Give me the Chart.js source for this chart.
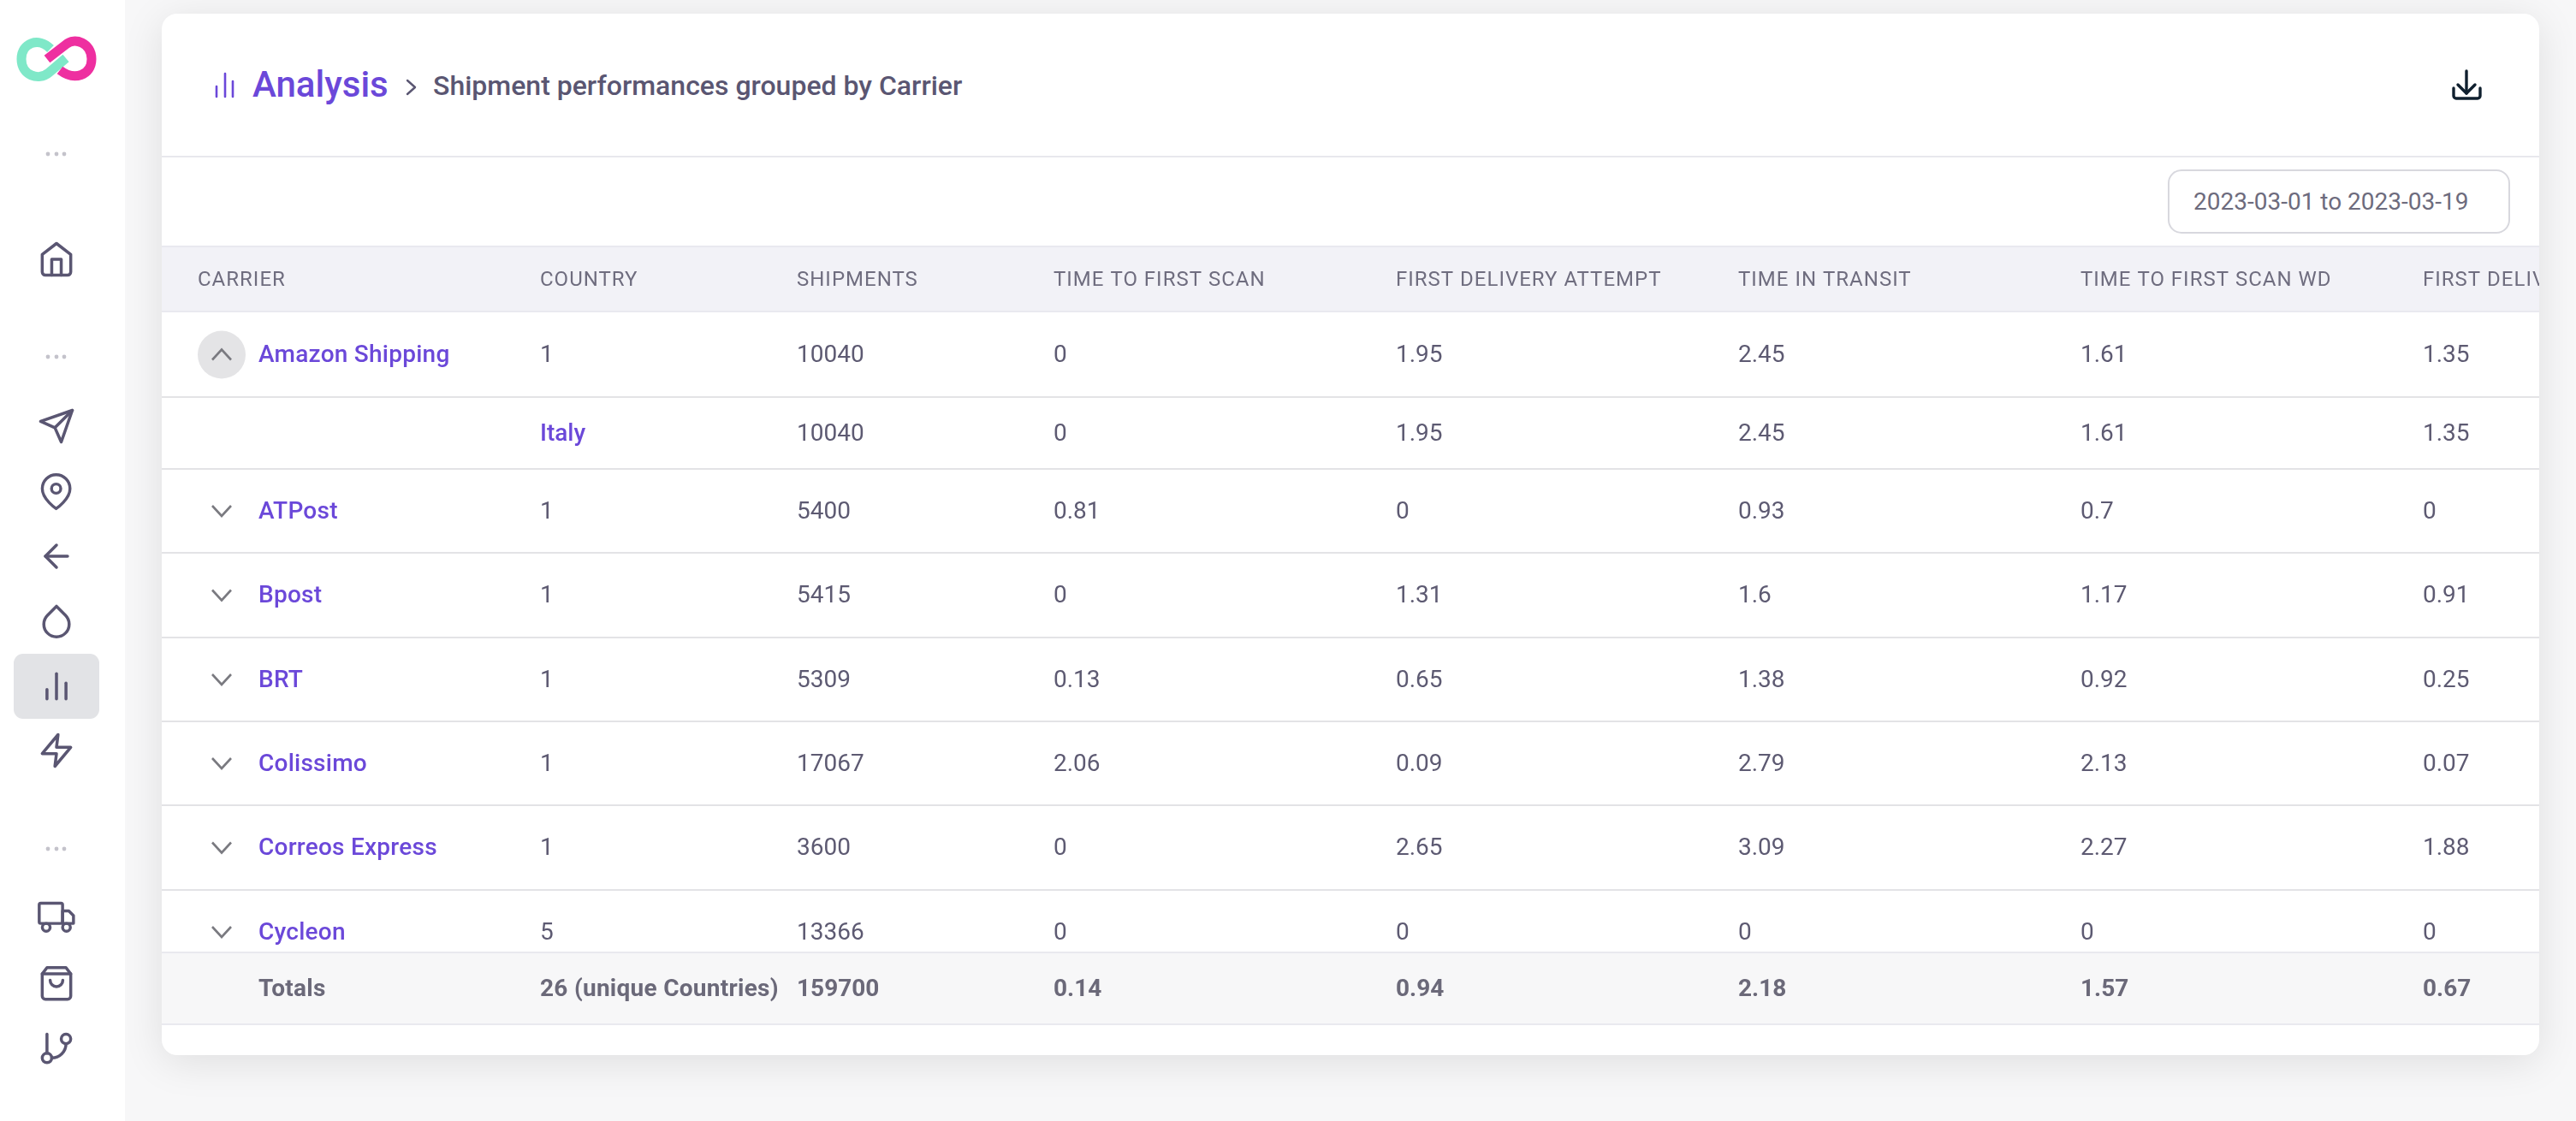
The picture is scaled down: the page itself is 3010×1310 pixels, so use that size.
<!DOCTYPE html>
<html>
<head>
<meta charset="utf-8">
<script src="https://cdn.jsdelivr.net/npm/chart.js@4"></script>
<style>
  html, body { margin: 0; padding: 0; width: 3010px; height: 1310px; overflow: hidden; background: #f7f7f8; font-family: Roboto, sans-serif; }
  #side { position: absolute; left: 0; top: 0; width: 146px; height: 1310px; background: #fff; z-index: 2; }
  #card { position: absolute; left: 189px; top: 16px; width: 2778px; height: 1217px; background: #fff; border-radius: 18px; box-shadow: 0 8px 48px rgba(0,0,0,.1); }
  #card .rule { position: absolute; left: 0; right: 0; top: 166px; height: 2px; background: #e8e8ed; }
  #wrap { position: absolute; left: 0; top: 271px; width: 2778px; height: 946px; overflow: hidden; border-radius: 0 0 18px 18px; }
  #wrap canvas { display: block; }
  .txt { position: absolute; white-space: nowrap; line-height: 1; }
  #analysis { left: 106px; top: 62px; font-size: 42px; font-weight: 500; color: #6b48d9; }
  #crumb { left: 317px; top: 68px; font-size: 32px; font-weight: 500; color: #5a5672; }
  #range { position: absolute; left: 2344px; top: 182px; width: 396px; height: 71px; border: 2px solid #d8d8de; border-radius: 16px; background: #fff; }
  #rangeText { left: 28px; top: 22px; font-size: 28px; color: #6d6b7d; }
  svg.over { position: absolute; left: 0; top: 0; fill: none; stroke-linecap: round; stroke-linejoin: round; }
</style>
</head>
<body>
<div id="side">
  <svg class="over" width="146" height="1310">
    <path d="M77 68 L57 85 C45 95 25 88 25 69 C25 50 45 43 59 57" stroke="#7fe8c8" stroke-width="11" stroke-linecap="butt"/>
    <path d="M55 69 L77 52 C87 43 107 50 107 69 C107 88 87 95 70 82" stroke="#ee2fa0" stroke-width="11" stroke-linecap="butt"/>
    <g fill="#c4c3cb" stroke="none">
      <circle cx="56" cy="180" r="2.4"/><circle cx="66" cy="180" r="2.4"/><circle cx="75" cy="180" r="2.4"/>
      <circle cx="56" cy="417" r="2.4"/><circle cx="66" cy="417" r="2.4"/><circle cx="75" cy="417" r="2.4"/>
      <circle cx="56" cy="992" r="2.4"/><circle cx="66" cy="992" r="2.4"/><circle cx="75" cy="992" r="2.4"/>
    </g>
    <rect x="16" y="764" width="100" height="76" rx="11" fill="#e2e3e6"/>
    <g stroke="#5a5672" stroke-width="1.9">
      <g transform="translate(43.8,280.8) scale(1.85)"><path d="M3 9l9-7 9 7v11a2 2 0 0 1-2 2H5a2 2 0 0 1-2-2z"/><path d="M9 22V12h6v10"/></g>
      <g transform="translate(43.8,475.8) scale(1.85)"><path d="M22 2 11 13"/><path d="M22 2 15 22 11 13 2 9z"/></g>
      <g transform="translate(44,553) scale(1.8)"><path d="M21 10c0 7-9 13-9 13s-9-6-9-13a9 9 0 0 1 18 0z"/><circle cx="12" cy="10" r="3"/></g>
      <g transform="translate(43.8,627.8) scale(1.85)"><path d="M19 12H5"/><path d="M12 19 5 12l7-7"/></g>
      <g transform="translate(43.8,703.5) scale(1.85)"><path d="M12 2.69l5.66 5.66a8 8 0 1 1-11.31 0z"/></g>
      <g transform="translate(43.8,779.8) scale(1.85)"><path d="M18 20V10"/><path d="M12 20V4"/><path d="M6 20v-6"/></g>
      <g transform="translate(43.8,854.8) scale(1.85)"><path d="M13 2 3 14h9l-1 8 10-12h-9z"/></g>
      <g transform="translate(44,1050) scale(1.82)"><rect x="1" y="3" width="15" height="13" rx="1"/><path d="M16 8h4l3 3v5h-7z"/><circle cx="5.5" cy="18.5" r="2.5"/><circle cx="18.5" cy="18.5" r="2.5"/></g>
      <g transform="translate(43.8,1127) scale(1.85)"><path d="M6 2h12l3 4v14a2 2 0 0 1-2 2H5a2 2 0 0 1-2-2V6z"/><path d="M3 6h18"/><path d="M16 10a4 4 0 0 1-8 0"/></g>
      <g transform="translate(43.8,1203) scale(1.85)"><path d="M6 3v12"/><circle cx="18" cy="6" r="3"/><circle cx="6" cy="18" r="3"/><path d="M18 9a9 9 0 0 1-9 9"/></g>
    </g>
  </svg>
</div>
<div id="card">
  <svg class="over" width="2778" height="166" style="overflow:visible">
    <g stroke="#6b48d9" stroke-width="2.6"><path d="M64 97V85"/><path d="M74 97V70"/><path d="M83 97V79"/></g>
    <path d="M287 78l9 8-9 8" stroke="#5a5672" stroke-width="2.4"/>
    <g stroke="#10202f" stroke-width="3.4"><path d="M2693 67v26"/><path d="M2683 83l10 10 10-10"/><path d="M2678 87v9a3 3 0 0 0 3 3h25a3 3 0 0 0 3-3v-9"/></g>
  </svg>
  <div id="analysis" class="txt">Analysis</div>
  <div id="crumb" class="txt">Shipment performances grouped by Carrier</div>
  <div class="rule"></div>
  <div id="range"><div id="rangeText" class="txt">2023-03-01 to 2023-03-19</div></div>
  <div id="wrap"><canvas id="table" width="2778" height="946"></canvas></div>
</div>
<script>
const columnLabels = ['CARRIER', 'COUNTRY', 'SHIPMENTS', 'TIME TO FIRST SCAN', 'FIRST DELIVERY ATTEMPT', 'TIME IN TRANSIT', 'TIME TO FIRST SCAN WD', 'FIRST DELIVERY ATTEMPT WD'];
const carriers = ['Amazon Shipping', '', 'ATPost', 'Bpost', 'BRT', 'Colissimo', 'Correos Express', 'Cycleon', 'Totals'];
const countries = ['1', 'Italy', '1', '1', '1', '1', '1', '5', '26 (unique Countries)'];
const shipments = [10040, 10040, 5400, 5415, 5309, 17067, 3600, 13366, 159700];
const timeToFirstScan = [0, 0, 0.81, 0, 0.13, 2.06, 0, 0, 0.14];
const firstDeliveryAttempt = [1.95, 1.95, 0, 1.31, 0.65, 0.09, 2.65, 0, 0.94];
const timeInTransit = [2.45, 2.45, 0.93, 1.6, 1.38, 2.79, 3.09, 0, 2.18];
const timeToFirstScanWd = [1.61, 1.61, 0.7, 1.17, 0.92, 2.13, 2.27, 0, 1.57];
const firstDeliveryAttemptWd = [1.35, 1.35, 0, 0.91, 0.25, 0.07, 1.88, 0, 0.67];
const valueColumns = [countries, shipments, timeToFirstScan, firstDeliveryAttempt, timeInTransit, timeToFirstScanWd, firstDeliveryAttemptWd];

// layout of the bands, the two scales below read these
const colWidths = [400, 300, 300, 400, 400, 400, 400, 400];
const colInset = 42;
const rowHeights = [99, 84, 98, 99, 98, 98, 99, 98, 84];
const textNudge = 1.5;
const totalsIndex = carriers.length - 1;

const TEXT = '#5d5a72', PURPLE = '#6b48d9', TOTAL = '#6b6979';

// category scale with bands of unequal size, the totals row sticks to the bottom
class BandScale extends Chart.CategoryScale {
  static id = 'band';
  static defaults = Chart.CategoryScale.defaults;
  rowTop(i) {
    if (i === totalsIndex) return this.bottom - rowHeights[i];
    return this.top + rowHeights.slice(0, i).reduce((a, b) => a + b, 0);
  }
  getPixelForValue(value) {
    const i = typeof value === 'number' ? value : this.parse(value);
    if (this.isHorizontal()) return this.left + colInset + colWidths.slice(0, i).reduce((a, b) => a + b, 0);
    return this.rowTop(i) + rowHeights[i] / 2 + textNudge;
  }
  drawLabels(area) {
    // header labels are spaced out a little, carrier names a touch
    this.ctx.letterSpacing = this.isHorizontal() ? '1px' : '0.25px';
    super.drawLabels(area);
    this.ctx.letterSpacing = '0px';
  }
}
Chart.register(BandScale);

const tableLook = {
  id: 'tableLook',
  beforeDraw(chart) {
    const { ctx, width, scales: { x, y } } = chart;
    ctx.save();
    ctx.fillStyle = '#f2f2f7';
    ctx.fillRect(0, 0, width, y.top);
    ctx.fillStyle = '#e9e9ef';
    ctx.fillRect(0, 0, width, 2);
    ctx.fillRect(0, y.top - 2, width, 2);
    ctx.fillStyle = '#e3e3e6';
    for (let i = 0; i < totalsIndex - 1; i++) ctx.fillRect(0, y.rowTop(i + 1) - 1, width, 2);
    const footTop = y.rowTop(totalsIndex);
    ctx.fillStyle = '#f7f7f8';
    ctx.fillRect(0, footTop, width, rowHeights[totalsIndex]);
    ctx.fillStyle = '#e9e9ef';
    ctx.fillRect(0, footTop - 1, width, 2);
    ctx.fillRect(0, y.bottom - 1, width, 2);
    // expand chevrons
    const cx = x.getPixelForValue(0) + 28;
    carriers.forEach((name, i) => {
      if (!name || i === totalsIndex) return;
      const cy = y.getPixelForValue(i) - textNudge;
      const dir = i === 0 ? -1 : 1;
      if (i === 0) {
        ctx.fillStyle = '#e4e4e6';
        ctx.beginPath();
        ctx.arc(cx, cy, 28, 0, Math.PI * 2);
        ctx.fill();
      }
      ctx.strokeStyle = '#7a7a80';
      ctx.lineWidth = 2.6;
      ctx.beginPath();
      ctx.moveTo(cx - 11, cy - dir * 6);
      ctx.lineTo(cx, cy + dir * 6);
      ctx.lineTo(cx + 11, cy - dir * 6);
      ctx.stroke();
    });
    ctx.restore();
  },
  afterDatasetsDraw(chart) {
    const { ctx } = chart;
    ctx.save();
    ctx.textAlign = 'left';
    ctx.textBaseline = 'middle';
    chart.data.datasets.forEach((ds, d) => {
      chart.getDatasetMeta(d).data.forEach((pt, i) => {
        const total = i === totalsIndex;
        const link = ds.data[i].v === 'Italy';
        ctx.font = (total ? '700' : link ? '500' : '400') + ' 28px Roboto';
        ctx.letterSpacing = typeof ds.data[i].v === 'string' && total ? '0.27px' : '0px';
        ctx.fillStyle = total ? TOTAL : link ? PURPLE : TEXT;
        ctx.fillText(String(ds.data[i].v), pt.x, pt.y);
      });
    });
    ctx.letterSpacing = '0px';
    ctx.restore();
  }
};

new Chart(document.getElementById('table'), {
  type: 'scatter',
  data: {
    datasets: valueColumns.map((col, c) => ({
      label: columnLabels[c + 1],
      data: col.map((v, r) => ({ x: columnLabels[c + 1], y: carriers[r], v })),
      pointRadius: 0,
      showLine: false,
      clip: false
    }))
  },
  plugins: [tableLook],
  options: {
    responsive: false,
    animation: false,
    devicePixelRatio: 1,
    layout: { autoPadding: false, padding: { bottom: 36 } },
    plugins: { legend: { display: false }, tooltip: { enabled: false } },
    scales: {
      x: {
        type: 'band',
        position: 'top',
        labels: columnLabels,
        grid: { display: false, drawTicks: false },
        border: { display: false },
        afterFit: s => { s.height = 78; },
        ticks: { autoSkip: false, maxRotation: 0, align: 'start', padding: 23, color: '#6f6d7f', font: { family: 'Roboto', size: 24, weight: '400' } }
      },
      y: {
        type: 'band',
        position: 'left',
        labels: carriers,
        grid: { display: false, drawTicks: false },
        border: { display: false },
        // the mirrored tick padding would otherwise be reserved above and below the rows
        afterFit: s => { s.width = 0; s.paddingTop = 0; s.paddingBottom = 0; },
        ticks: {
          autoSkip: false,
          mirror: true,
          padding: 113,
          color: ctx => ctx.index === totalsIndex ? TOTAL : PURPLE,
          font: ctx => ({ family: 'Roboto', size: 28, weight: ctx.index === totalsIndex ? '700' : '500' })
        }
      }
    }
  }
});
</script>
</body>
</html>
